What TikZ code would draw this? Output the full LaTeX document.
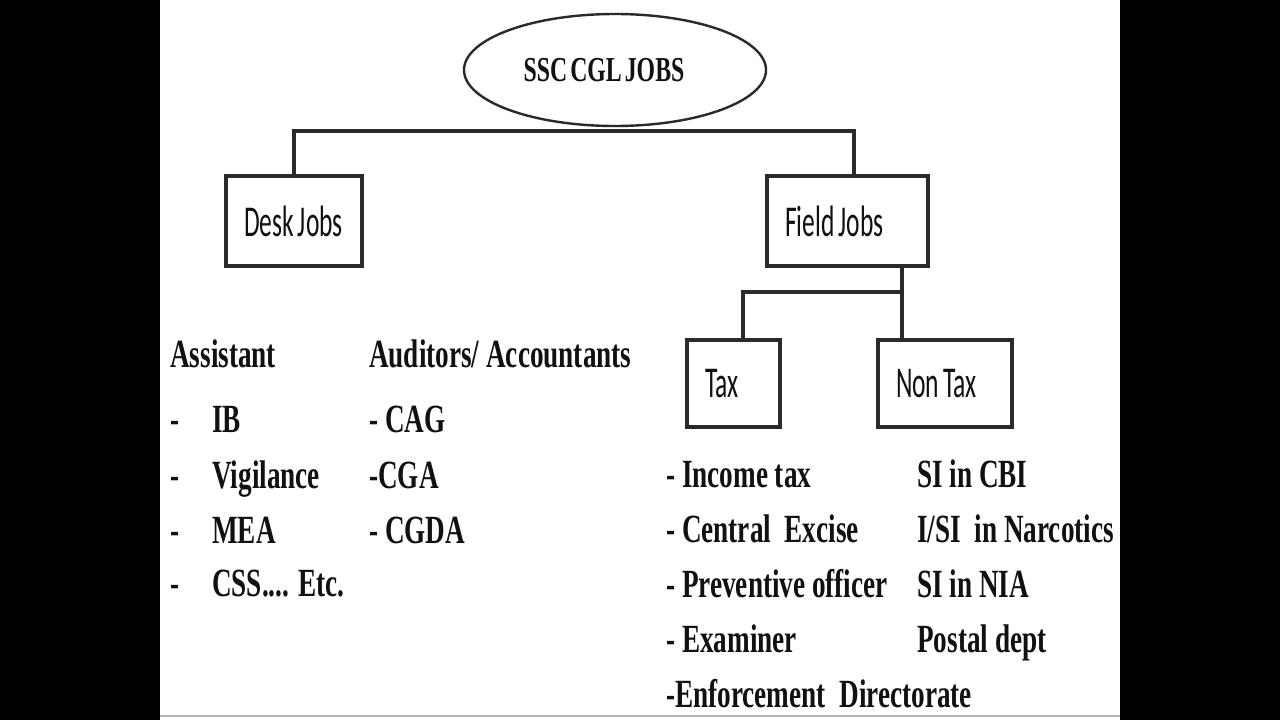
\documentclass[tikz,border=0pt]{standalone}
\usepackage{fontspec}
\usetikzlibrary{shapes.geometric}
\newfontfamily\tnr{Liberation Serif}[FakeStretch=0.68]
\newfontfamily\cbr{Carlito}[FakeStretch=0.58]
\definecolor{ln}{HTML}{2A2A2A}
\definecolor{tx}{HTML}{111111}
\begin{document}
\begin{tikzpicture}[x=1pt,y=-1pt,
  box/.style={draw=ln, line width=3.2pt, align=left, inner xsep=18pt, inner ysep=0pt,
    font=\cbr\fontsize{44}{46}\selectfont, text=tx},
  conn/.style={draw=ln, line width=3.2pt},
  item/.style={anchor=base west, inner sep=0pt, font=\tnr\bfseries\fontsize{40}{44}\selectfont, text=tx}]
\useasboundingbox (0,0) rectangle (1280,720);
\fill[black] (0,0) rectangle (1280,720);
\fill[white] (160,0) rectangle (1120,720);
\draw[gray!60, line width=2pt] (160,716) -- (1120,716);

% title
\node[ellipse, draw=ln, line width=2.4pt, minimum width=302pt, minimum height=112pt, inner sep=0pt,
  font=\tnr\bfseries\fontsize{35}{38}\selectfont, text=tx] (top) at (615,70)
  {SSC\hspace{3pt}CGL\hspace{3pt}JOBS\kern22pt};

% boxes
\node[box, text width=100pt, minimum height=90pt] (desk) at (294,221) {\rlap{Desk\hspace{4pt}Jobs}};
\node[box, text width=125pt, minimum height=90pt] (field) at (847.5,221) {\rlap{Field\hspace{4pt}Jobs}};
\node[box, text width=57pt, minimum height=87pt] (tax) at (733.5,383.5) {\rlap{Tax}};
\node[box, text width=98pt, minimum height=87pt] (nontax) at (945,383.5) {\rlap{Non\hspace{4pt}Tax}};

% connectors
\coordinate (bar) at (575,131);
\coordinate (fin) at ([xshift=6.5pt]field.north);
\draw[conn] (desk.north) -- (desk.north |- bar) -- (fin |- bar) -- (fin);
\coordinate (j) at (902,292);
\coordinate (tin) at ([xshift=9.5pt]tax.north);
\draw[conn] (j |- field.south) -- (j |- nontax.north);
\draw[conn] (j) -| (tin);

% desk job lists
\node[item] (a0) at (170,367) {Assistant};
\node[item] (a1) at (170,432) {\makebox[42pt][l]{-}IB};
\node[item] (a2) at (170,488) {\makebox[42pt][l]{-}Vigilance};
\node[item] (a3) at (170,543) {\makebox[42pt][l]{-}MEA};
\node[item] (a4) at (170,596) {\makebox[42pt][l]{-}CSS.... Etc.};

\node[item] (b0) at (369,367) {Auditors/ Accountants};
\node[item] (b1) at (369,432) {- CAG};
\node[item] (b2) at (369,488) {-CGA};
\node[item] (b3) at (369,543) {- CGDA};

% field job lists
\node[item] (c1) at (666,487) {- Income tax};
\node[item] (c2) at (666,542) {- Central\ \ Excise};
\node[item] (c3) at (666,597) {- Preventive officer};
\node[item] (c4) at (666,652) {- Examiner};
\node[item] (c5) at (666,707) {-Enforcement\ \ Directorate};

\node[item] (d1) at (917,487) {SI in CBI};
\node[item] (d2) at (917,542) {I/SI\ \ in Narcotics};
\node[item] (d3) at (917,597) {SI in NIA};
\node[item] (d4) at (917,652) {Postal dept};
\end{tikzpicture}
\end{document}
